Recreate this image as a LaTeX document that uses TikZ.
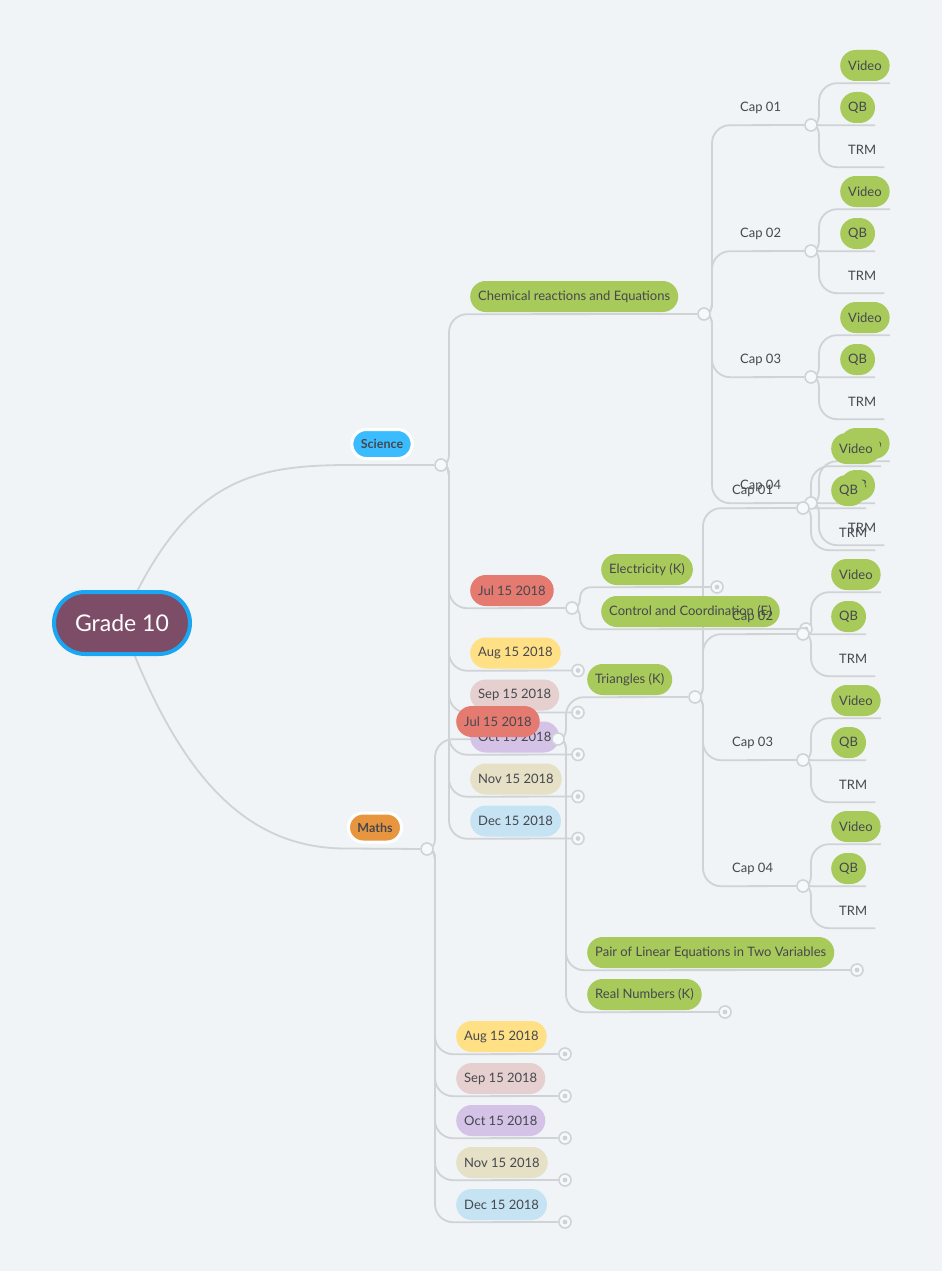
\documentclass[tikz,border=0pt]{standalone}
\usepackage{fontspec}
\setmainfont{Lato}
\usetikzlibrary{calc}

\definecolor{paper}{HTML}{F0F4F7}
\definecolor{wire}{HTML}{CFD3D6}
\definecolor{ink}{HTML}{45484E}
\definecolor{knobfill}{HTML}{F6F9FB}
\definecolor{plum}{HTML}{7D4C66}
\definecolor{rootblue}{HTML}{1AA6F2}
\definecolor{sciblue}{HTML}{3BBCFF}
\definecolor{mathorange}{HTML}{E8953F}
\definecolor{leafgreen}{HTML}{A8CA5A}
\definecolor{dred}{HTML}{E57A71}
\definecolor{dyellow}{HTML}{FFE085}
\definecolor{dpink}{HTML}{E6CFCF}
\definecolor{dpurple}{HTML}{D4C3E7}
\definecolor{dbeige}{HTML}{E5E0C6}
\definecolor{dblue}{HTML}{C5E3F3}

\pgfdeclarelayer{paper}
\pgfdeclarelayer{wires}
\pgfsetlayers{paper,wires,main}

\tikzset{
    pill/.style={rounded corners=15.5pt, minimum height=31pt, inner xsep=8pt, inner ysep=0pt,
        font=\fontsize{13}{15}\selectfont, text=ink},
    leaf/.style={pill, fill=leafgreen},
    tag/.style={pill},
    date/.style={pill, fill=#1},
    root/.style={rounded corners=31pt, minimum width=136pt, minimum height=62pt, fill=plum,
        draw=rootblue, line width=4pt, text=white, font=\fontsize{23}{27}\selectfont},
    subject/.style={rounded corners=14.5pt, minimum height=29pt, inner xsep=9pt, inner ysep=0pt,
        draw=white, line width=3pt, text=ink, font=\bfseries\fontsize{12.5}{14}\selectfont},
    knob/.style={circle, draw=wire, line width=1.6pt, fill=knobfill, minimum size=12pt, inner sep=0pt},
    fold/.style={knob, path picture={\fill[wire] (path picture bounding box.center) circle (2.4pt);}},
    link/.style={draw=wire, line width=1.8pt},
}

% parent knob, start of the child's underline, end of that underline
\newcommand\branch[3]{%
    \draw[link] let \p1=(#1), \p2=(#2), \n1={sign(\y2-\y1)},
        \n2={min(12,abs(\y2-\y1)/2)}, \n3={min(18,abs(\y2-\y1)-\n2)} in
        (\p1) .. controls ({\x1+6},\y1) and ({\x1+8},{\y1+\n1*\n2/3}) .. ({\x1+8},{\y1+\n1*\n2})
        -- ({\x1+8},{\y2-\n1*\n3})
        .. controls ({\x1+8},{\y2-\n1*\n3*0.45}) and ({\x1+8+\n3*0.45},\y2) .. ({\x1+8+\n3},\y2)
        -- (\p2) -- (#3);}

\begin{document}
\begin{tikzpicture}[x=1pt, y=-1pt]
    \useasboundingbox (0,0) rectangle (942,1271);
    \begin{pgfonlayer}{paper}
        \fill[paper] (0,0) rectangle (942,1271);
    \end{pgfonlayer}

    % root
    \node[root] (root) at (122,623) {Grade 10};
    \node[subject, fill=sciblue] (sci) at (382,444) {Science};
    \node[knob] (scik) at (441,465) {};
    \begin{pgfonlayer}{wires}
        \draw[link] (root.center) .. controls (185,480) and (250,465) .. ([yshift=-5pt]sci.south west) -- (scik);
    \end{pgfonlayer}

    % Science
    \node[leaf, anchor=west] (chem) at (470,296.5) {Chemical reactions and Equations};
    \node[knob] (chemk) at (704,314) {};
    \node[date=dred, anchor=west] (sjul) at (470,590.5) {Jul 15 2018};
    \node[knob] (sjulk) at (572,608) {};
    \node[date=dyellow, anchor=west] (saug) at (470,653) {Aug 15 2018};
    \node[fold] (saugk) at (578,670.5) {};
    \node[date=dpink, anchor=west] (ssep) at (470,695) {Sep 15 2018};
    \node[fold] (ssepk) at (578,712.5) {};
    \node[date=dpurple, anchor=west] (soct) at (470,737) {Oct 15 2018};
    \node[fold] (soctk) at (578,754.5) {};
    \node[date=dbeige, anchor=west] (snov) at (470,779) {Nov 15 2018};
    \node[fold] (snovk) at (578,796.5) {};
    \node[date=dblue, anchor=west] (sdec) at (470,821) {Dec 15 2018};
    \node[fold] (sdeck) at (578,838.5) {};
    \begin{pgfonlayer}{wires}
        \branch{scik}{[yshift=-2pt]chem.south west}{chemk}
        \branch{scik}{[yshift=-2pt]sjul.south west}{sjulk}
        \branch{scik}{[yshift=-2pt]saug.south west}{saugk}
        \branch{scik}{[yshift=-2pt]ssep.south west}{ssepk}
        \branch{scik}{[yshift=-2pt]soct.south west}{soctk}
        \branch{scik}{[yshift=-2pt]snov.south west}{snovk}
        \branch{scik}{[yshift=-2pt]sdec.south west}{sdeck}
    \end{pgfonlayer}

    \foreach \i/\uy in {1/125, 2/251, 3/377, 4/503} {
        \node[tag, anchor=west] (cc\i) at (732,{\uy-17.5}) {Cap 0\i};
        \node[knob] (cck\i) at (811,\uy) {};
        \node[leaf, anchor=west] (ccv\i) at (840,{\uy-59.5}) {Video};
        \node[leaf, anchor=west] (ccq\i) at (840,{\uy-17.5}) {QB};
        \node[tag, anchor=west] (cct\i) at (840,{\uy+24.5}) {TRM};
        \begin{pgfonlayer}{wires}
            \branch{chemk}{[yshift=-2pt]cc\i.south west}{cck\i}
            \branch{cck\i}{[yshift=-2pt]ccv\i.south west}{[yshift=-2pt]ccv\i.south east}
            \branch{cck\i}{[yshift=-2pt]ccq\i.south west}{[yshift=-2pt]ccq\i.south east}
            \branch{cck\i}{[yshift=-2pt]cct\i.south west}{[yshift=-2pt]cct\i.south east}
        \end{pgfonlayer}
    }

    \node[leaf, anchor=west] (elec) at (601,569.5) {Electricity (K)};
    \node[fold] (eleck) at (717,587) {};
    \node[leaf, anchor=west] (ctrl) at (601,611.5) {Control and Coordination (E)};
    \node[fold] (ctrlk) at (806,629) {};
    \begin{pgfonlayer}{wires}
        \branch{sjulk}{[yshift=-2pt]elec.south west}{eleck}
        \branch{sjulk}{[yshift=-2pt]ctrl.south west}{ctrlk}
    \end{pgfonlayer}

    % Maths
    \node[subject, fill=mathorange] (maths) at (375,827.5) {Maths};
    \node[knob] (mathsk) at (427,849) {};
    \begin{pgfonlayer}{wires}
        \draw[link] (root.center) .. controls (178,775) and (245,849) .. ([yshift=-5pt]maths.south west) -- (mathsk);
    \end{pgfonlayer}

    \node[date=dred, anchor=west] (mjul) at (456,721.5) {Jul 15 2018};
    \node[knob] (mjulk) at (558,739) {};
    \node[date=dyellow, anchor=west] (maug) at (456,1036.5) {Aug 15 2018};
    \node[fold] (maugk) at (565,1054) {};
    \node[date=dpink, anchor=west] (msep) at (456,1078.5) {Sep 15 2018};
    \node[fold] (msepk) at (565,1096) {};
    \node[date=dpurple, anchor=west] (moct) at (456,1120.5) {Oct 15 2018};
    \node[fold] (moctk) at (565,1138) {};
    \node[date=dbeige, anchor=west] (mnov) at (456,1162.5) {Nov 15 2018};
    \node[fold] (mnovk) at (565,1180) {};
    \node[date=dblue, anchor=west] (mdec) at (456,1204.5) {Dec 15 2018};
    \node[fold] (mdeck) at (565,1222) {};
    \begin{pgfonlayer}{wires}
        \branch{mathsk}{[yshift=-2pt]mjul.south west}{mjulk}
        \branch{mathsk}{[yshift=-2pt]maug.south west}{maugk}
        \branch{mathsk}{[yshift=-2pt]msep.south west}{msepk}
        \branch{mathsk}{[yshift=-2pt]moct.south west}{moctk}
        \branch{mathsk}{[yshift=-2pt]mnov.south west}{mnovk}
        \branch{mathsk}{[yshift=-2pt]mdec.south west}{mdeck}
    \end{pgfonlayer}

    \node[leaf, anchor=west] (tri) at (587,679.5) {Triangles (K)};
    \node[knob] (trik) at (695,697) {};
    \node[leaf, anchor=west] (pair) at (587,952.5) {Pair of Linear Equations in Two Variables};
    \node[fold] (pairk) at (857,970) {};
    \node[leaf, anchor=west] (real) at (587,994.5) {Real Numbers (K)};
    \node[fold] (realk) at (725,1012) {};
    \begin{pgfonlayer}{wires}
        \branch{mjulk}{[yshift=-2pt]tri.south west}{trik}
        \branch{mjulk}{[yshift=-2pt]pair.south west}{pairk}
        \branch{mjulk}{[yshift=-2pt]real.south west}{realk}
    \end{pgfonlayer}

    \foreach \i/\uy in {1/508, 2/634, 3/760, 4/886} {
        \node[tag, anchor=west] (tc\i) at (724,{\uy-17.5}) {Cap 0\i};
        \node[knob] (tck\i) at (803,\uy) {};
        \node[leaf, anchor=west] (tcv\i) at (831,{\uy-59.5}) {Video};
        \node[leaf, anchor=west] (tcq\i) at (831,{\uy-17.5}) {QB};
        \node[tag, anchor=west] (tct\i) at (831,{\uy+24.5}) {TRM};
        \begin{pgfonlayer}{wires}
            \branch{trik}{[yshift=-2pt]tc\i.south west}{tck\i}
            \branch{tck\i}{[yshift=-2pt]tcv\i.south west}{[yshift=-2pt]tcv\i.south east}
            \branch{tck\i}{[yshift=-2pt]tcq\i.south west}{[yshift=-2pt]tcq\i.south east}
            \branch{tck\i}{[yshift=-2pt]tct\i.south west}{[yshift=-2pt]tct\i.south east}
        \end{pgfonlayer}
    }
\end{tikzpicture}
\end{document}
